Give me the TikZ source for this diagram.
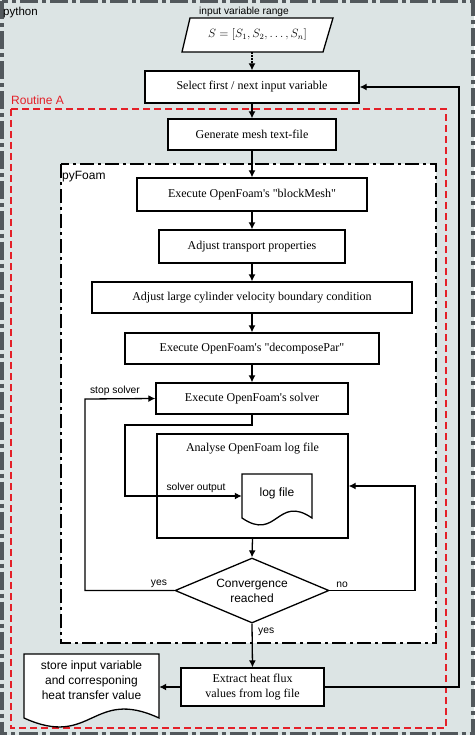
\documentclass[tikz,border=0pt]{standalone}
\usepackage{fontspec}
\setmainfont{Liberation Serif}[Ligatures=TeXOff]
\setsansfont{Liberation Sans}
\usetikzlibrary{arrows.meta,shapes.geometric}
\definecolor{bgc}{RGB}{220,228,228}
\definecolor{framec}{RGB}{82,88,92}
\definecolor{rred}{RGB}{228,32,40}
\begin{document}
\begin{tikzpicture}[x=1pt,y=-1pt,
  box/.style={draw,line width=1.3pt,fill=white,inner sep=0pt,align=center,font=\fontsize{12}{15}\selectfont},
  lbl/.style={font=\sffamily\fontsize{10.3}{12}\selectfont,inner sep=0pt},
  doctxt/.style={font=\sffamily\fontsize{12}{15}\selectfont,inner sep=0pt,align=center},
  arr/.style={line width=1.3pt,-{Latex[length=7pt,width=7pt]}},
  docline/.style={line width=1.3pt,fill=white,line join=miter}]
\useasboundingbox (0,0) rectangle (474,735);
\fill[bgc] (0,0) rectangle (474,735);
\draw[framec,line width=4pt,dash pattern=on 18pt off 4pt on 4pt off 4pt] (1.5,1.5) rectangle (472.5,733.5);
\node[font=\sffamily\fontsize{11.5}{13}\selectfont,inner sep=0pt,anchor=west] (pylbl) at (3,13) {python};
% Routine A
\draw[rred,line width=1.4pt,dash pattern=on 7pt off 4pt] (11,109) rectangle (446,728);
\node[font=\sffamily\fontsize{12}{14}\selectfont,inner sep=0pt,anchor=west,text=rred] (ralbl) at (11,100) {Routine A};
% pyFoam
\draw[line width=1.5pt,fill=white,dash pattern=on 14pt off 4pt on 3pt off 4pt] (61,164) rectangle (436,643);
\node[font=\sffamily\fontsize{12}{14}\selectfont,inner sep=0pt,anchor=west] (pflbl) at (62,177) {pyFoam};
% input
\node[lbl,font=\sffamily\fontsize{10.2}{12}\selectfont] (inlbl) at (244,12) {input variable range};
\draw[line width=1.3pt,fill=white] (190,18) -- (333,18) -- (323,52) -- (182,52) -- cycle;
\node[inner sep=0pt,font=\fontsize{12}{14}\selectfont,minimum height=34] (S) at (257.5,35) {$S=[S_1,S_2,\ldots,S_n]$};
% boxes
\node[box,minimum width=214,minimum height=32] (sel) at (252,87) {Select first / next input variable};
\node[box,minimum width=168,minimum height=31] (gen) at (252,134.5) {Generate mesh text-file};
\node[box,minimum width=230,minimum height=33] (bm) at (252,194.5) {Execute OpenFoam's "blockMesh"};
\node[box,minimum width=186,minimum height=33] (tr) at (252,246.5) {Adjust transport properties};
\node[box,minimum width=320,minimum height=31] (lg) at (252,297.5) {Adjust large cylinder velocity boundary condition};
\node[box,minimum width=254,minimum height=31] (dec) at (252,348.5) {Execute OpenFoam's "decomposePar"};
\node[box,minimum width=192,minimum height=31] (sol) at (252,398.5) {Execute OpenFoam's solver};
\node[box,minimum width=191,minimum height=104] (an) at (252.5,486) {};
\node[inner sep=0pt,font=\fontsize{12}{15}\selectfont] (antxt) at (252.5,449) {Analyse OpenFoam log file};
% log file document
\draw[docline] (242,474) -- (312,474) -- (312,518) .. controls (277,494) and (277,542) .. (242,518) -- cycle;
\node[inner sep=0pt,minimum width=70,minimum height=44] (log) at (277,496) {};
\node[doctxt] (logtxt) at (277,493) {log file};
% diamond
\node[draw,diamond,line width=1.3pt,fill=white,inner sep=0pt,minimum width=154,minimum height=65,aspect=2.37,doctxt] (conv) at (252,590.5) {Convergence\\reached};
% extract
\node[box,minimum width=143,minimum height=38] (ext) at (252.5,687) {Extract heat flux\\values from log file};
% store document
\draw[docline] (24,654) -- (159,654) -- (159,718) .. controls (92,687) and (92,749) .. (24,718) -- cycle;
\node[inner sep=0pt,minimum width=135,minimum height=66] (store) at (91.5,687) {};
\node[doctxt] (storetxt) at (91.5,680) {store input variable\\and corresponing\\heat transfer value};
% coordinates
\coordinate (c1) at (125,425);
\coordinate (c2) at (415,486);
\coordinate (c3) at (85,399);
\coordinate (c4) at (459,87);
% connectors
\draw[line width=1.3pt,dash pattern=on 1.5pt off 1.5pt,-{Latex[length=7pt,width=7pt]}] (sel.north |- S.south) -- (sel.north);
\draw[arr] (sel) -- (gen);
\draw[arr] (gen) -- (bm);
\draw[arr] (bm) -- (tr);
\draw[arr] (tr) -- (lg);
\draw[arr] (lg) -- (dec);
\draw[arr] (dec) -- (sol);
\draw[arr] (sol.south) |- (c1) |- (log.west);
\node[lbl,anchor=south] (solout) at (196,493) {solver output};
\draw[arr] (an.south) -- (conv.north);
\draw[arr] (conv.east) -| (c2) -- (an.east);
\node[lbl,anchor=south] (nolbl) at (342,588) {no};
\draw[arr] (conv.west) -| (c3) -- (sol.west);
\node[lbl,anchor=south] (yeslbl1) at (159,588) {yes};
\node[lbl,anchor=south] (stoplbl) at (115,396) {stop solver};
\draw[arr] (conv.south) -- (ext.north);
\node[lbl,anchor=west] (yeslbl2) at (258,632) {yes};
\draw[arr] (ext.west) -- (store.east);
\draw[arr] (ext.east) -| (c4) -- (sel.east);
\end{tikzpicture}
\end{document}
